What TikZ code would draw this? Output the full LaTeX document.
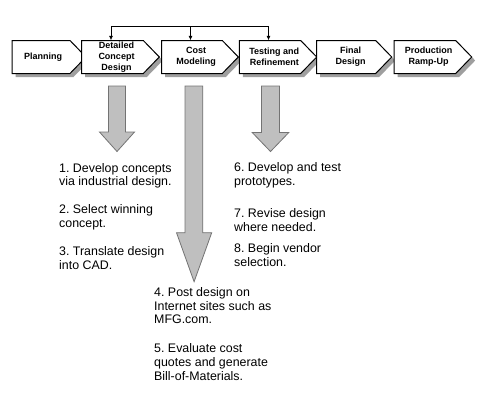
\documentclass[tikz,border=0pt]{standalone}
\usepackage{fontspec}
\setmainfont{Liberation Sans}
\usetikzlibrary{arrows.meta}
\frenchspacing

\begin{document}
\begin{tikzpicture}[
    x=1pt, y=-1pt,
    etape/.style={draw=black, fill=white, line width=1pt, line join=miter,
        preaction={fill=gray!75, transform canvas={xshift=3.5pt, yshift=-3.5pt}}},
    titre/.style={inner sep=0pt, minimum height=33pt, align=center,
        font=\bfseries\fontsize{9}{11.3}\selectfont},
    lien/.style={line width=0.7pt},
    fleche/.style={fill=gray!50, draw=black!55, line width=0.8pt},
    texte/.style={anchor=base west, align=left, inner sep=0pt,
        font=\fontsize{12.4}{13.7}\selectfont},
    >={Latex[length=4.5pt, width=4pt]}
]

% Cadre de l'image
\useasboundingbox (0,0) rectangle (481,402);

% Les six étapes (chevrons avec ombre)
\draw[etape] (12,40.5) -- (70,40.5) -- (86,57) -- (70,73.5) -- (12,73.5) -- cycle;
\node[titre] (planif) at (43,57) {Planning};
\draw[etape] (81.7,40.5) -- (143.3,40.5) -- (159.3,57) -- (143.3,73.5) -- (81.7,73.5) -- cycle;
\node[titre] (concept) at (116.5,57) {Detailed\\Concept\\Design};
\draw[etape] (161.7,40.5) -- (222.3,40.5) -- (238.3,57) -- (222.3,73.5) -- (161.7,73.5) -- cycle;
\node[titre] (couts) at (196,57) {Cost\\Modeling};
\draw[etape] (239.3,40.5) -- (300.7,40.5) -- (316.7,57) -- (300.7,73.5) -- (239.3,73.5) -- cycle;
\node[titre] (essais) at (274.3,57) {Testing and\\Refinement};
\draw[etape] (316.7,40.5) -- (375.7,40.5) -- (391.7,57) -- (375.7,73.5) -- (316.7,73.5) -- cycle;
\node[titre] (final) at (350.5,57) {Final\\Design};
\draw[etape] (394,40.5) -- (455.7,40.5) -- (471.7,57) -- (455.7,73.5) -- (394,73.5) -- cycle;
\node[titre] (production) at (428.5,57) {Production\\Ramp-Up};

% Liaison au-dessus des étapes
\coordinate (h1) at (111,26);
\coordinate (h2) at (190.5,26);
\coordinate (h3) at (268.5,26);
\draw[lien] (h1) -- (h3);
\draw[lien, ->] (h1) -- (h1 |- concept.north);
\draw[lien, ->] (h2) -- (h2 |- couts.north);
\draw[lien, ->] (h3) -- (h3 |- essais.north);

% Grosses flèches grises
\draw[fleche] (108.5,86) -- (125.5,86) -- (125.5,132) -- (134.5,132) -- (117,151.5)
    -- (99.5,132) -- (108.5,132) -- cycle;
\draw[fleche] (185,86) -- (202.8,86) -- (202.8,232.7) -- (211.7,232.7) -- (194.1,281.7)
    -- (176.5,232.7) -- (185,232.7) -- cycle;
\draw[fleche] (261.5,86) -- (279.5,86) -- (279.5,132.5) -- (288.8,132.5) -- (270.5,151.5)
    -- (252.2,132.5) -- (261.5,132.5) -- cycle;

% Textes sous les flèches (base = dernière ligne)
\node[texte] (t1) at (59,185.7) {1. Develop concepts\\via industrial design.};
\node[texte] (t2) at (59,227.3) {2. Select winning\\concept.};
\node[texte] (t3) at (59,269) {3. Translate design\\into CAD.};
\node[texte] (t4) at (154,323.7) {4. Post design on\\Internet sites such as\\MFG.com.};
\node[texte] (t5) at (154,380.3) {5. Evaluate cost\\quotes and generate\\Bill-of-Materials.};
\node[texte] (t6) at (234,185.5) {6. Develop and test\\prototypes.};
\node[texte] (t7) at (234,231.5) {7. Revise design\\where needed.};
\node[texte] (t8) at (234,266.5) {8. Begin vendor\\selection.};

\end{tikzpicture}
\end{document}
